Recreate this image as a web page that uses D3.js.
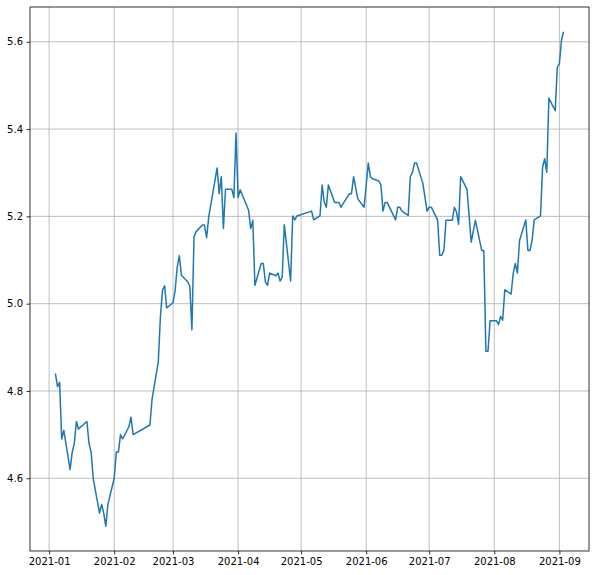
<!DOCTYPE html>
<html>
<head>
<meta charset="utf-8">
<script src="https://cdn.jsdelivr.net/npm/d3@7"></script>
<style>
body { margin: 0; background: #fff; }
text { font-family: "DejaVu Sans", sans-serif; font-size: 10px; fill: #000; }
</style>
</head>
<body>
<svg id="chart" width="595" height="575"></svg>
<script>
// values
var dates = [
  "2021-01-04","2021-01-05","2021-01-06","2021-01-07","2021-01-08","2021-01-11","2021-01-12","2021-01-13","2021-01-14","2021-01-15",
  "2021-01-19","2021-01-20","2021-01-21","2021-01-22","2021-01-25","2021-01-26","2021-01-27","2021-01-28","2021-01-29",
  "2021-02-01","2021-02-02","2021-02-03","2021-02-04","2021-02-05","2021-02-08","2021-02-09","2021-02-10",
  "2021-02-18","2021-02-19","2021-02-22","2021-02-23","2021-02-24","2021-02-25","2021-02-26",
  "2021-03-01","2021-03-02","2021-03-03","2021-03-04","2021-03-05","2021-03-08","2021-03-09","2021-03-10","2021-03-11","2021-03-12",
  "2021-03-15","2021-03-16","2021-03-17","2021-03-18","2021-03-22","2021-03-23","2021-03-24","2021-03-25","2021-03-26",
  "2021-03-29","2021-03-30","2021-03-31","2021-04-01","2021-04-02","2021-04-06","2021-04-07","2021-04-08","2021-04-09",
  "2021-04-12","2021-04-13","2021-04-14","2021-04-15","2021-04-16","2021-04-19","2021-04-20","2021-04-21","2021-04-22","2021-04-23",
  "2021-04-26","2021-04-27","2021-04-28","2021-04-29","2021-05-06","2021-05-07","2021-05-10","2021-05-11","2021-05-12","2021-05-13","2021-05-14",
  "2021-05-17","2021-05-19","2021-05-20","2021-05-24","2021-05-25","2021-05-26","2021-05-28","2021-05-31",
  "2021-06-01","2021-06-02","2021-06-03","2021-06-04","2021-06-07","2021-06-08","2021-06-09","2021-06-10","2021-06-11",
  "2021-06-15","2021-06-16","2021-06-17","2021-06-18","2021-06-21","2021-06-22","2021-06-23","2021-06-24","2021-06-25",
  "2021-06-28","2021-06-30","2021-07-01","2021-07-02","2021-07-05","2021-07-06","2021-07-07","2021-07-08","2021-07-09",
  "2021-07-12","2021-07-13","2021-07-14","2021-07-15","2021-07-16","2021-07-19","2021-07-21","2021-07-23",
  "2021-07-26","2021-07-27","2021-07-28","2021-07-29","2021-07-30","2021-08-02","2021-08-03","2021-08-04","2021-08-05","2021-08-06",
  "2021-08-09","2021-08-10","2021-08-11","2021-08-12","2021-08-13","2021-08-16","2021-08-17","2021-08-18","2021-08-19","2021-08-20",
  "2021-08-23","2021-08-24","2021-08-25","2021-08-26","2021-08-27","2021-08-30","2021-08-31","2021-09-01","2021-09-02","2021-09-03"
];
var prices = [
  4.84,4.81,4.82,4.69,4.71,4.62,4.66,4.68,4.73,4.713,
  4.73,4.68,4.66,4.60,4.52,4.54,4.52,4.49,4.54,
  4.60,4.66,4.66,4.70,4.69,4.718,4.74,4.70,
  4.722,4.78,4.867,4.97,5.031,5.041,4.99,
  5.002,5.03,5.083,5.11,5.065,5.05,5.04,4.94,5.153,5.165,
  5.18,5.18,5.151,5.198,5.311,5.252,5.291,5.172,5.262,
  5.262,5.243,5.391,5.243,5.261,5.214,5.172,5.191,5.042,
  5.092,5.092,5.05,5.042,5.07,5.064,5.07,5.052,5.06,5.181,
  5.052,5.201,5.192,5.201,5.212,5.192,5.201,5.272,5.233,5.221,5.272,
  5.232,5.232,5.221,5.252,5.252,5.291,5.24,5.221,
  5.271,5.322,5.291,5.286,5.281,5.272,5.212,5.232,5.232,
  5.192,5.221,5.221,5.212,5.202,5.291,5.30,5.322,5.322,
  5.275,5.212,5.221,5.221,5.192,5.111,5.111,5.122,5.191,
  5.191,5.221,5.21,5.182,5.291,5.262,5.141,5.191,
  5.122,5.122,4.891,4.891,4.961,4.961,4.952,4.971,4.962,5.032,
  5.022,5.069,5.092,5.07,5.144,5.192,5.122,5.122,5.145,5.192,
  5.201,5.313,5.332,5.301,5.471,5.442,5.541,5.55,5.604,5.623
];
var yTicks = [4.6, 4.8, 5.0, 5.2, 5.4, 5.6];
var monthTicks = ["2021-01-01","2021-02-01","2021-03-01","2021-04-01","2021-05-01","2021-06-01","2021-07-01","2021-08-01","2021-09-01"];

var parse = d3.timeParse("%Y-%m-%d");
var data = dates.map(function(d, i) { return {date: parse(d), value: prices[i]}; });

var margin = {top: 7, right: 6, bottom: 24, left: 30};
var svg = d3.select("#chart");
var width = 595 - margin.left - margin.right;
var height = 575 - margin.top - margin.bottom;
var g = svg.append("g").attr("transform", "translate(" + margin.left + "," + margin.top + ")");

// matplotlib style 5% margins
var xExt = d3.extent(data, function(d) { return d.date; });
var xPad = (xExt[1] - xExt[0]) * 0.05;
var x = d3.scaleTime().domain([new Date(+xExt[0] - xPad), new Date(+xExt[1] + xPad)]).range([0, width]);
var yExt = d3.extent(prices);
var yPad = (yExt[1] - yExt[0]) * 0.05;
var y = d3.scaleLinear().domain([yExt[0] - yPad, yExt[1] + yPad]).range([height, 0]);

var xTickDates = monthTicks.map(parse);

// grid
g.append("g").selectAll("line").data(xTickDates).enter().append("line")
  .attr("x1", function(d) { return x(d); }).attr("x2", function(d) { return x(d); })
  .attr("y1", 0).attr("y2", height)
  .attr("stroke", "#b0b0b0").attr("stroke-width", 0.8);
g.append("g").selectAll("line").data(yTicks).enter().append("line")
  .attr("y1", function(d) { return y(d); }).attr("y2", function(d) { return y(d); })
  .attr("x1", 0).attr("x2", width)
  .attr("stroke", "#b0b0b0").attr("stroke-width", 0.8);

// axes
var xAxis = g.append("g").attr("transform", "translate(0," + height + ")")
  .call(d3.axisBottom(x).tickValues(xTickDates).tickFormat(d3.timeFormat("%Y-%m")).tickSize(3.5).tickPadding(3.5));
var yAxis = g.append("g")
  .call(d3.axisLeft(y).tickValues(yTicks).tickFormat(d3.format(".1f")).tickSize(3.5).tickPadding(3.5));
[xAxis, yAxis].forEach(function(a) {
  a.select(".domain").remove();
  a.selectAll("line").attr("stroke", "#000").attr("stroke-width", 0.8);
  a.selectAll("text").style("font-family", "DejaVu Sans").style("font-size", "10px").attr("fill", "#000");
});

// line
var line = d3.line().x(function(d) { return x(d.date); }).y(function(d) { return y(d.value); });
g.append("path").datum(data)
  .attr("fill", "none").attr("stroke", "#1f77b4").attr("stroke-width", 1.5)
  .attr("stroke-linejoin", "round").attr("d", line);

// frame
g.append("rect").attr("width", width).attr("height", height)
  .attr("fill", "none").attr("stroke", "#000").attr("stroke-width", 0.8);
</script>
</body>
</html>
